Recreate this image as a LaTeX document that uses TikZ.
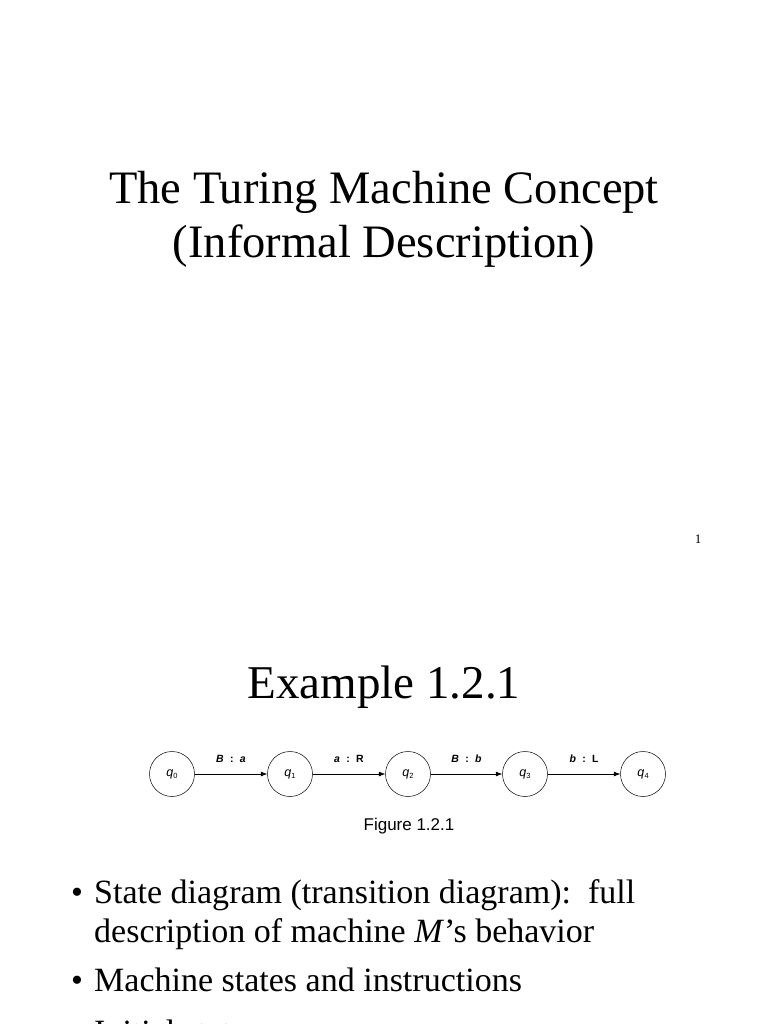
\documentclass[tikz,border=0pt]{standalone}
\usepackage{fontspec}
\setmainfont{Liberation Serif}
\newfontfamily\helv{Liberation Sans}
\usetikzlibrary{arrows.meta,positioning}

% state label: sans italic q with a small index
\newcommand{\qlab}[1]{{\itshape q}\kern0.2pt\raisebox{-2.5pt}{\fontsize{7.5}{7.5}\selectfont #1}}
% transition label, wide spaced round the colon
\newcommand{\tlab}[2]{#1\hspace{0.6em}:\hspace{0.6em}#2}

\begin{document}
\begin{tikzpicture}[x=1pt,y=-1pt,
    qstate/.style={draw,circle,minimum size=45pt,inner sep=0pt,line width=0.5pt,
                   font=\helv\fontsize{12.5}{12.5}\selectfont},
    trans/.style={-{Latex[length=6.5pt,width=5pt]},line width=0.6pt},
    tlabel/.style={above=10pt,inner sep=1pt,font=\helv\bfseries\fontsize{10.5}{10.5}\selectfont},
    big/.style={anchor=base,font=\fontsize{46.5}{52}\selectfont},
    item/.style={anchor=base west,font=\fontsize{34}{40}\selectfont,inner sep=0pt}]
\useasboundingbox (0,0) rectangle (768,1024);

% title slide
\node[big] (title1) at (384,204) {The Turing Machine Concept};
\node[big] (title2) at (384,257) {(Informal Description)};
\node[anchor=base,font=\fontsize{13}{13}\selectfont] (pageno) at (698,543) {1};

% second slide
\node[anchor=base,font=\fontsize{47}{52}\selectfont] (example) at (384,698) {Example 1.2.1};

\node[qstate] (q0) at (172,774) {\qlab{0}};
\node[qstate] (q1) at (290,774) {\qlab{1}};
\node[qstate] (q2) at (408,774) {\qlab{2}};
\node[qstate] (q3) at (525,774) {\qlab{3}};
\node[qstate] (q4) at (643,774) {\qlab{4}};

\draw[trans] (q0) -- node[tlabel] {\tlab{\textit{B}}{\textit{a}}} (q1);
\draw[trans] (q1) -- node[tlabel] {\tlab{\textit{a}}{R}} (q2);
\draw[trans] (q2) -- node[tlabel] {\tlab{\textit{B}}{\textit{b}}} (q3);
\draw[trans] (q3) -- node[tlabel] {\tlab{\textit{b}}{L}} (q4);

\node[anchor=base,font=\helv\fontsize{17}{17}\selectfont] (caption) at (409,830) {Figure 1.2.1};

% bullets
\node[item] (b1) at (71,903) {\textbullet};
\node[item] (t1) at (94,903) {State diagram (transition diagram):\ \ full};
\node[item] (t1b) at (94,942) {description of machine \textit{M}’s behavior};
\node[item] (b2) at (71,991) {\textbullet};
\node[item] (t2) at (94,991) {Machine states and instructions};
\node[item] (b3) at (71,1043) {\textbullet};
\node[item] (t3) at (94,1043) {Initial state};

\end{tikzpicture}
\end{document}
